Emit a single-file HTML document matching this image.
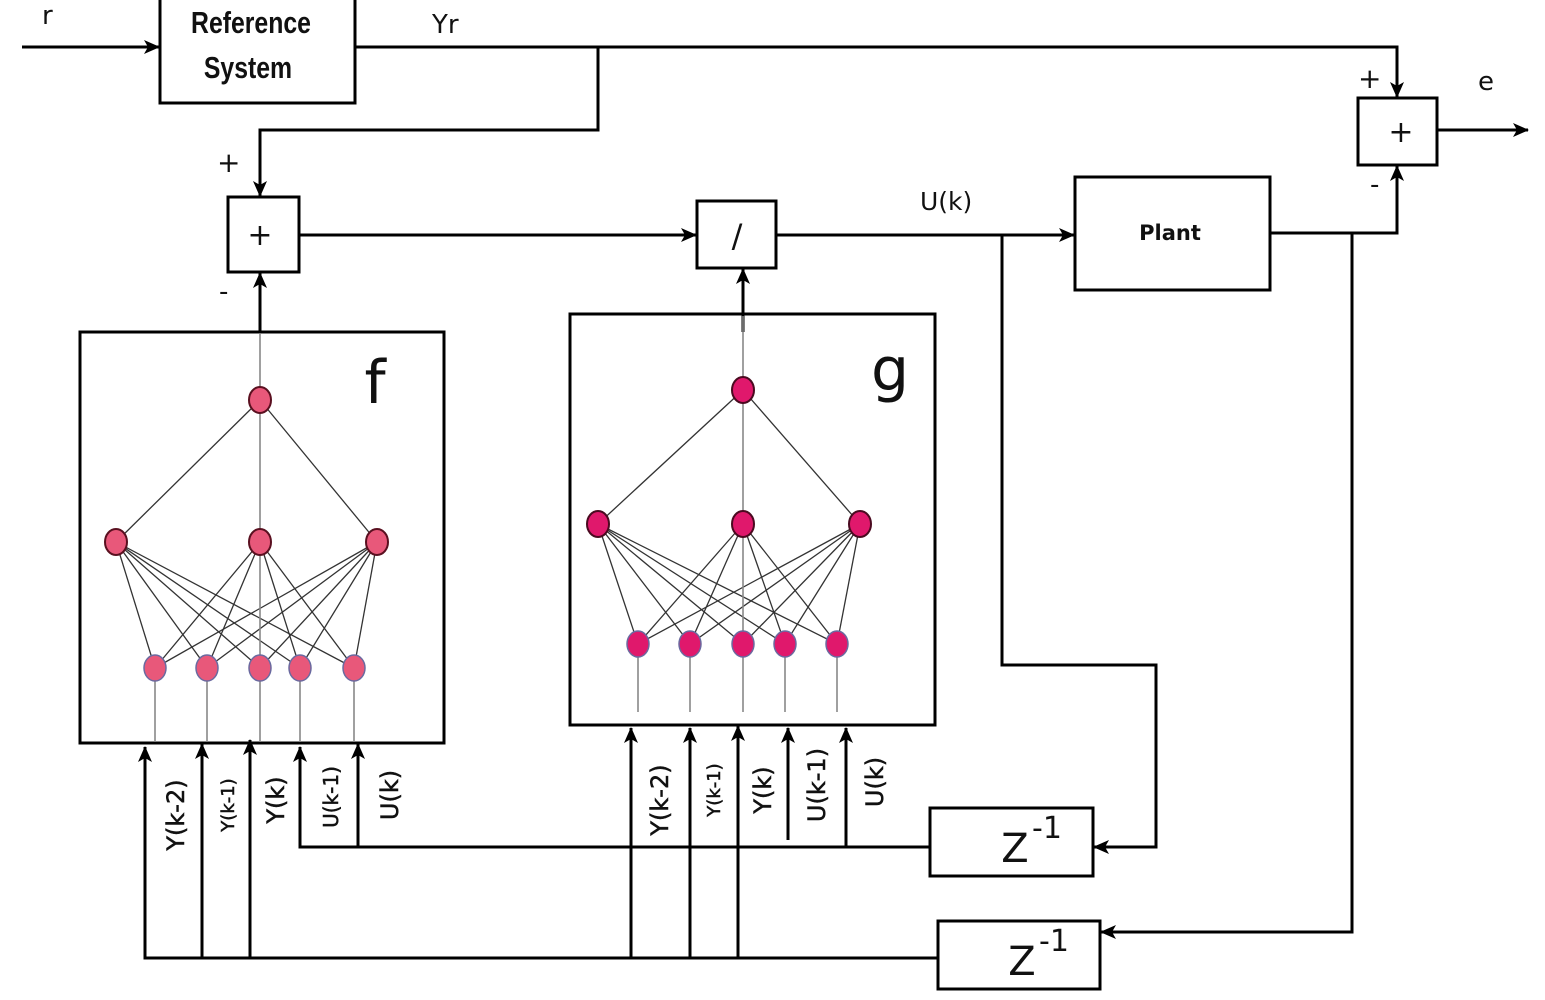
<!DOCTYPE html>
<html><head><meta charset="utf-8"><style>
html,body{margin:0;padding:0;background:#fff;}
svg{display:block;}
text{font-family:"DejaVu Sans","Liberation Sans",sans-serif;fill:#111;}
</style></head><body>
<svg width="1545" height="1000" viewBox="0 0 1545 1000" xmlns="http://www.w3.org/2000/svg">
<defs>
<marker id="a" viewBox="0 0 16 14" refX="15" refY="7" markerWidth="16" markerHeight="14" markerUnits="userSpaceOnUse" orient="auto">
<path d="M0,0 L16,7 L0,14 L4,7 Z" fill="#000"/>
</marker>
</defs>
<g fill="none" stroke="#000" stroke-width="3">
<rect x="160" y="-6" width="195" height="109"/>
<rect x="1358" y="98" width="79" height="67"/>
<rect x="228" y="197" width="71" height="75"/>
<rect x="697" y="201" width="79" height="67"/>
<rect x="1075" y="177" width="195" height="113"/>
<rect x="80" y="332" width="364" height="411"/>
<rect x="570" y="314" width="365" height="411"/>
<rect x="930" y="808" width="163" height="68"/>
<rect x="938" y="921" width="162" height="68"/>
<path d="M22,47 H159" marker-end="url(#a)"/>
<path d="M355,47 H1397 V97" marker-end="url(#a)"/>
<path d="M598,47 V130 H260 V196" marker-end="url(#a)"/>
<path d="M1437,130 H1528" marker-end="url(#a)"/>
<path d="M299,235 H696" marker-end="url(#a)"/>
<path d="M776,235 H1074" marker-end="url(#a)"/>
<path d="M1270,233 H1397 V166" marker-end="url(#a)"/>
<path d="M1352,233 V932 H1101" marker-end="url(#a)"/>
<path d="M1002,235 V665 H1156 V847 H1094" marker-end="url(#a)"/>
<path d="M260,332 V273" marker-end="url(#a)"/>
<path d="M743,332 V269" marker-end="url(#a)"/>
<path d="M930,847 H300 V747" marker-end="url(#a)"/>
<path d="M358,847 V744" marker-end="url(#a)"/>
<path d="M788,840 V728" marker-end="url(#a)"/>
<path d="M846,847 V728" marker-end="url(#a)"/>
<path d="M938,958 H145 V747" marker-end="url(#a)"/>
<path d="M202,958 V744" marker-end="url(#a)"/>
<path d="M250,958 V740" marker-end="url(#a)"/>
<path d="M631,958 V728" marker-end="url(#a)"/>
<path d="M690,958 V728" marker-end="url(#a)"/>
<path d="M738,958 V726" marker-end="url(#a)"/>
</g>
<g stroke="#333" stroke-width="1.3">
<line x1="260" y1="400" x2="116" y2="542"/><line x1="260" y1="400" x2="377" y2="542"/>
<line x1="116" y1="542" x2="155" y2="668"/><line x1="116" y1="542" x2="207" y2="668"/><line x1="116" y1="542" x2="260" y2="668"/><line x1="116" y1="542" x2="300" y2="668"/><line x1="116" y1="542" x2="354" y2="668"/>
<line x1="260" y1="542" x2="155" y2="668"/><line x1="260" y1="542" x2="207" y2="668"/><line x1="260" y1="542" x2="300" y2="668"/><line x1="260" y1="542" x2="354" y2="668"/>
<line x1="377" y1="542" x2="155" y2="668"/><line x1="377" y1="542" x2="207" y2="668"/><line x1="377" y1="542" x2="260" y2="668"/><line x1="377" y1="542" x2="300" y2="668"/><line x1="377" y1="542" x2="354" y2="668"/>
<line x1="743" y1="390" x2="598" y2="524"/><line x1="743" y1="390" x2="860" y2="524"/>
<line x1="598" y1="524" x2="638" y2="644"/><line x1="598" y1="524" x2="690" y2="644"/><line x1="598" y1="524" x2="743" y2="644"/><line x1="598" y1="524" x2="785" y2="644"/><line x1="598" y1="524" x2="837" y2="644"/>
<line x1="743" y1="524" x2="638" y2="644"/><line x1="743" y1="524" x2="690" y2="644"/><line x1="743" y1="524" x2="785" y2="644"/><line x1="743" y1="524" x2="837" y2="644"/>
<line x1="860" y1="524" x2="638" y2="644"/><line x1="860" y1="524" x2="690" y2="644"/><line x1="860" y1="524" x2="743" y2="644"/><line x1="860" y1="524" x2="785" y2="644"/><line x1="860" y1="524" x2="837" y2="644"/>
</g>
<g stroke="#888" stroke-width="1.6">
<line x1="260" y1="334" x2="260" y2="668"/>
<line x1="743" y1="316" x2="743" y2="644"/>
<line x1="155" y1="668" x2="155" y2="742"/><line x1="207" y1="668" x2="207" y2="742"/><line x1="260" y1="668" x2="260" y2="742"/><line x1="300" y1="668" x2="300" y2="742"/><line x1="354" y1="668" x2="354" y2="742"/>
<line x1="638" y1="644" x2="638" y2="712"/><line x1="690" y1="644" x2="690" y2="712"/><line x1="743" y1="644" x2="743" y2="712"/><line x1="785" y1="644" x2="785" y2="712"/><line x1="837" y1="644" x2="837" y2="712"/>
</g>
<g fill="#e8587a" stroke="#5a1020" stroke-width="2">
<ellipse cx="260" cy="400" rx="11" ry="13"/>
<ellipse cx="116" cy="542" rx="11" ry="13"/><ellipse cx="260" cy="542" rx="11" ry="13"/><ellipse cx="377" cy="542" rx="11" ry="13"/>
</g>
<g fill="#e8587a" stroke="#6a6aa0" stroke-width="1.5">
<ellipse cx="155" cy="668" rx="11" ry="13"/><ellipse cx="207" cy="668" rx="11" ry="13"/><ellipse cx="260" cy="668" rx="11" ry="13"/><ellipse cx="300" cy="668" rx="11" ry="13"/><ellipse cx="354" cy="668" rx="11" ry="13"/>
</g>
<g fill="#e0186c" stroke="#4a0a20" stroke-width="2">
<ellipse cx="743" cy="390" rx="11" ry="13"/>
<ellipse cx="598" cy="524" rx="11" ry="13"/><ellipse cx="743" cy="524" rx="11" ry="13"/><ellipse cx="860" cy="524" rx="11" ry="13"/>
</g>
<g fill="#e0186c" stroke="#6a6aa0" stroke-width="1.5">
<ellipse cx="638" cy="644" rx="11" ry="13"/><ellipse cx="690" cy="644" rx="11" ry="13"/><ellipse cx="743" cy="644" rx="11" ry="13"/><ellipse cx="785" cy="644" rx="11" ry="13"/><ellipse cx="837" cy="644" rx="11" ry="13"/>
</g>
<text x="42" y="24" font-size="26">r</text>
<text x="0" y="0" font-size="31" font-weight="bold" text-anchor="middle" transform="translate(251,33) scale(0.8,1)" style="font-family:'Liberation Sans Narrow','Liberation Sans',sans-serif">Reference</text>
<text x="0" y="0" font-size="31" font-weight="bold" text-anchor="middle" transform="translate(248,78) scale(0.8,1)" style="font-family:'Liberation Sans Narrow','Liberation Sans',sans-serif">System</text>
<text x="432" y="33" font-size="26">Yr</text>
<text x="1358" y="88" font-size="28">+</text>
<text x="1478" y="90" font-size="26">e</text>
<text x="1401" y="142" font-size="30" text-anchor="middle">+</text>
<text x="1370" y="193" font-size="26">-</text>
<text x="217" y="172" font-size="28">+</text>
<text x="260" y="245" font-size="30" text-anchor="middle">+</text>
<text x="219" y="300" font-size="26">-</text>
<text x="737" y="247" font-size="32" text-anchor="middle">/</text>
<text x="920" y="210" font-size="25">U(k)</text>
<text x="1170" y="240" font-size="21" font-weight="bold" text-anchor="middle">Plant</text>
<text x="375" y="403" font-size="60" text-anchor="middle">f</text>
<text x="890" y="390" font-size="60" text-anchor="middle">g</text>
<text x="1015" y="862" font-size="40" text-anchor="middle">Z</text>
<text x="1047" y="838" font-size="30" text-anchor="middle">-1</text>
<text x="1022" y="975" font-size="40" text-anchor="middle">Z</text>
<text x="1054" y="951" font-size="30" text-anchor="middle">-1</text>
<g font-size="24" stroke="#111" stroke-width="0.5">
<text transform="translate(184,815) rotate(-90)" text-anchor="middle">Y(k-2)</text>
<text transform="translate(234,805) rotate(-90)" text-anchor="middle" font-size="18">Y(k-1)</text>
<text transform="translate(284,800) rotate(-90)" text-anchor="middle">Y(k)</text>
<text transform="translate(338,797) rotate(-90)" text-anchor="middle" font-size="20">U(k-1)</text>
<text transform="translate(398,795) rotate(-90)" text-anchor="middle">U(k)</text>
<text transform="translate(668,800) rotate(-90)" text-anchor="middle">Y(k-2)</text>
<text transform="translate(720,790) rotate(-90)" text-anchor="middle" font-size="18">Y(k-1)</text>
<text transform="translate(771,790) rotate(-90)" text-anchor="middle">Y(k)</text>
<text transform="translate(825,785) rotate(-90)" text-anchor="middle">U(k-1)</text>
<text transform="translate(883,782) rotate(-90)" text-anchor="middle">U(k)</text>
</g>
</svg>
</body></html>
